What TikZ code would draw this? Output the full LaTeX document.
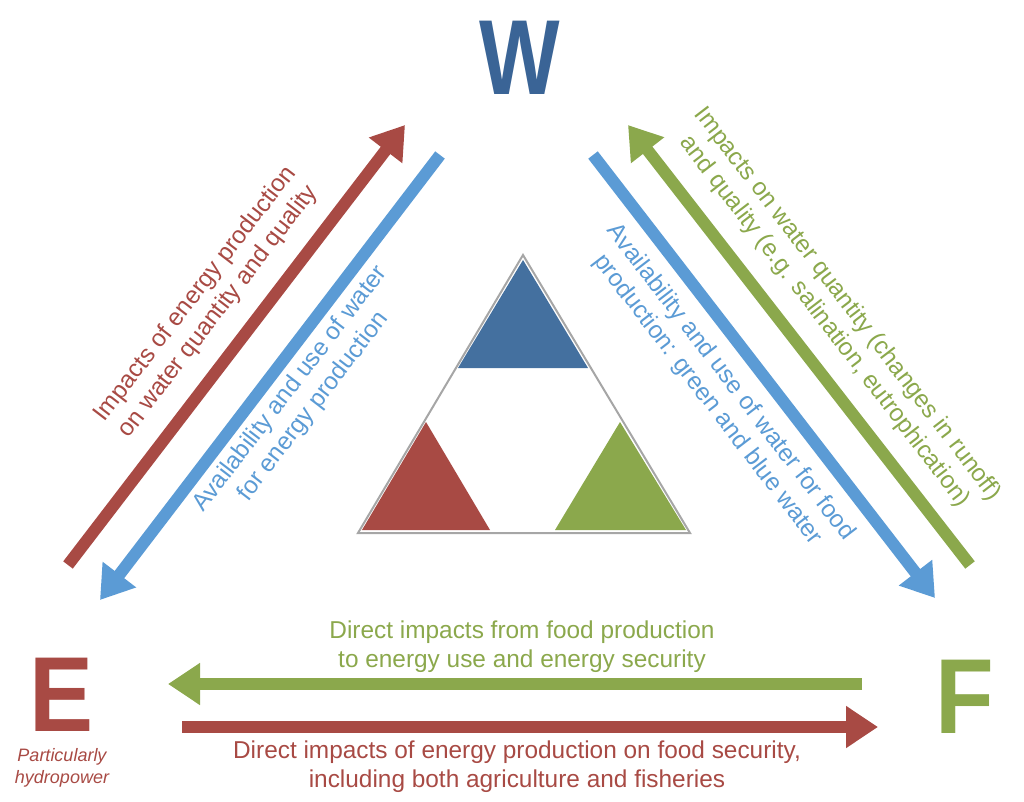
\documentclass[tikz,border=0pt]{standalone}
\usepackage{fontspec}
\setmainfont{Liberation Sans}
\usetikzlibrary{arrows.meta}
\definecolor{cR}{HTML}{A84A44}
\definecolor{cB}{HTML}{5B9BD5}
\definecolor{cG}{HTML}{8BA84C}
\definecolor{cD}{HTML}{44709F}
\definecolor{cW}{HTML}{3A6496}
\begin{document}
\begin{tikzpicture}[x=0.75pt,y=-0.75pt,
  arr/.style={line width=9pt,-{Triangle[length=24pt,width=30pt]}},
  lbl/.style={font=\fontsize{18.3}{21.5}\selectfont,align=center,inner sep=0pt},
  big/.style={font=\fontsize{80}{80}\selectfont\bfseries,inner sep=0pt}]
\useasboundingbox (0,0) rectangle (1024,802);
\node[big,text=cW,xscale=0.8] (W) at (520,58) {W};
\node[big,text=cR,xscale=0.9] (E) at (62,695) {E};
\node[big,text=cG,xscale=0.9] (F) at (965,697) {F};
\node[font=\fontsize{13.5}{17}\selectfont\itshape,text=cR,align=center] (ph) at (62,768) {Particularly\\hydropower};
\coordinate (a1) at (68,565); \coordinate (a2) at (405,125);
\coordinate (b1) at (440,155); \coordinate (b2) at (100,600);
\coordinate (c1) at (970,565); \coordinate (c2) at (628,125);
\coordinate (d1) at (593,155); \coordinate (d2) at (935,598);
\coordinate (e1) at (862,684); \coordinate (e2) at (168,684);
\coordinate (f1) at (182,727); \coordinate (f2) at (878,727);
\draw[arr,cR] (a1) -- (a2);
\draw[arr,cB] (b1) -- (b2);
\draw[arr,cG] (c1) -- (c2);
\draw[arr,cB] (d1) -- (d2);
\draw[arr,cG] (e1) -- (e2);
\draw[arr,cR] (f1) -- (f2);
\node[lbl,text=cR,rotate=52.5] (t1) at (207,303) {Impacts of energy production\\on water quantity and quality};
\node[lbl,text=cB,rotate=52.5] (t2) at (302,398) {Availability and use of water\\for energy production};
\node[lbl,text=cB,rotate=-52.5] (t3) at (719,391) {Availability and use of water for food\\production: green and blue water};
\node[lbl,text=cG,rotate=-52.5] (t4) at (836,313) {Impacts on water quantity (changes in runoff)\\and quality (e.g. salination, eutrophication)};
\node[lbl,text=cG] (t5) at (522,647) {Direct impacts from food production\\to energy use and energy security};
\node[lbl,text=cR] (t6) at (517,767) {Direct impacts of energy production on food security,\\including both agriculture and fisheries};
\draw[gray!70,line width=1.5pt] (358,533) -- (690,533) -- (523,255) -- cycle;
\fill[cD] (458,368) -- (588,368) -- (523,260) -- cycle;
\fill[cR] (362,530) -- (490,530) -- (426,422) -- cycle;
\fill[cG] (555,530) -- (686,530) -- (620,422) -- cycle;
\end{tikzpicture}
\end{document}
